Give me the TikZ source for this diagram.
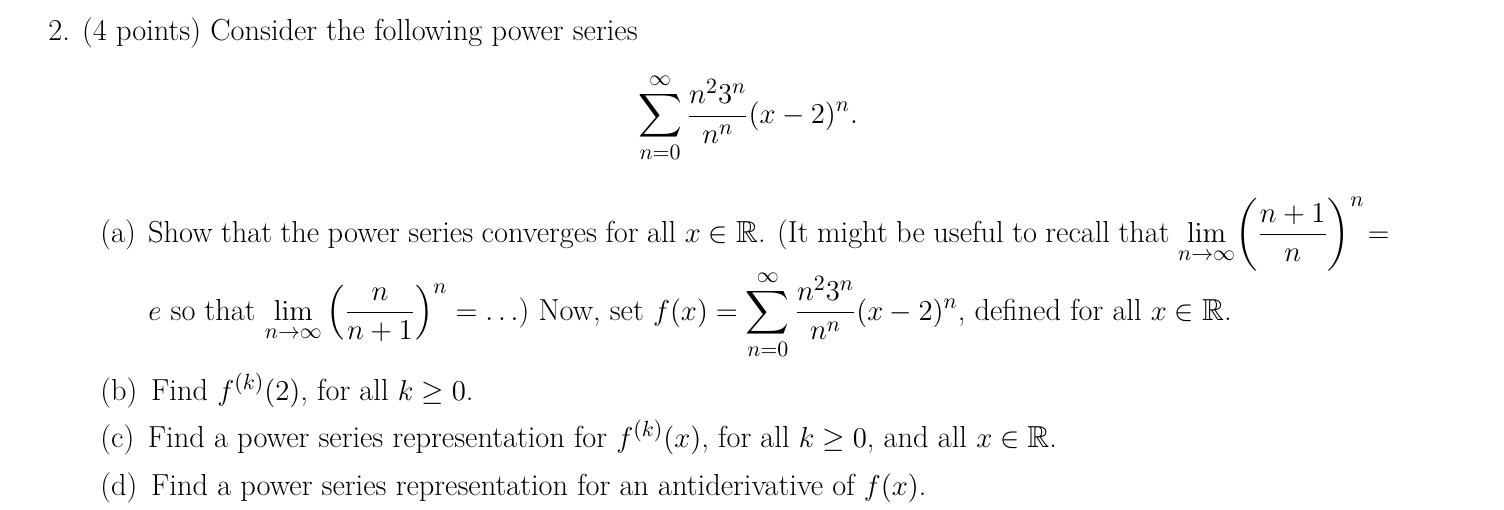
\documentclass[tikz,border=0pt]{standalone}
\usepackage{amsmath,amssymb}
\begin{document}
\begin{tikzpicture}[x=0.5pt,y=-0.5pt,
  txt/.style={anchor=base west,inner sep=0pt,font=\fontsize{15.2}{18}\selectfont}]
\useasboundingbox (0,0) rectangle (1504,509);
\node[txt] (t1) at (48,40) {2. (4 points) Consider the following power series};
\node[inner sep=0pt,font=\fontsize{15.2}{18}\selectfont] (eq) at (748,118)
  {$\displaystyle\sum_{n=0}^{\infty}\frac{n^2 3^n}{n^n}(x-2)^n.$};
\node[txt] (a) at (100,242) {\spaceskip=0.28em (a)\hspace{0.4em}Show that the power series converges for all $x\in\mathbb{R}$. (It might be useful to recall that $\displaystyle\lim_{n\to\infty}\!\left(\frac{n+1}{n}\right)^{n}\!=$};
\node[txt] (a2) at (148,320) {$e$ so that $\displaystyle\lim_{n\to\infty}\left(\frac{n}{n+1}\right)^{n}=\ldots$) Now, set $f(x)=\displaystyle\sum_{n=0}^{\infty}\frac{n^2 3^n}{n^n}(x-2)^n$, defined for all $x\in\mathbb{R}$.};
\node[txt] (b) at (100,400) {(b)\hspace{0.45em}Find $f^{(k)}(2)$, for all $k\geq0$.};
\node[txt] (c) at (100,447) {(c)\hspace{0.45em}Find a power series representation for $f^{(k)}(x)$, for all $k\geq0$, and all $x\in\mathbb{R}$.};
\node[txt] (d) at (100,495) {(d)\hspace{0.45em}Find a power series representation for an antiderivative of $f(x)$.};
\end{tikzpicture}
\end{document}
